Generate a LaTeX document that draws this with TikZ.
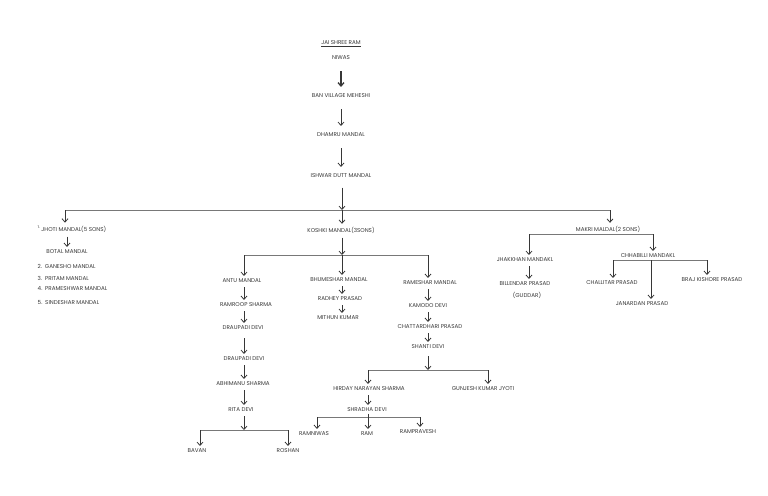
\documentclass[tikz,border=0pt]{standalone}
\usepackage{fontspec}
\setmainfont{Poppins}
\usetikzlibrary{arrows.meta}
\definecolor{txtgrey}{RGB}{55,55,55}
\definecolor{arrgrey}{RGB}{55,55,55}
\definecolor{bargrey}{RGB}{120,120,120}
\tikzset{every picture/.style={line width=0.6pt}}
\tikzset{
  lbl/.style={inner sep=1pt, text=txtgrey, font=\fontsize{4.2}{5}\selectfont},
  arr/.style={draw=arrgrey, -{Straight Barb[length=2.5pt,width=4.5pt]}, shorten <=2pt, shorten >=1pt},
  mainarr/.style={arr, shorten <=7pt, shorten >=4pt},
  barline/.style={draw=bargrey, line width=0.7pt},
}
\begin{document}
\begin{tikzpicture}[x=0.75pt,y=0.75pt,yscale=-1,xscale=1]
\useasboundingbox (0,0) rectangle (768,496);

% Text Node
\node[lbl] (jsr) at (341,44) {\underline{JAI SHREE RAM}};
\node[lbl] (niwas) at (341,58) {NIWAS};
\node[lbl] (ban) at (341,96) {BAN VILLAGE MEHESHI};
\node[lbl] (dhamru) at (341,135) {DHAMRU MANDAL};
\node[lbl] (ishwar) at (341,176) {ISHWAR DUTT MANDAL};

%Straight Lines
\draw[mainarr, line width=1pt] (niwas.south) -- (niwas.south |- ban.north);
\draw[mainarr] (ban.south) -- (ban.south |- dhamru.north);
\draw[mainarr] (dhamru.south) -- (dhamru.south |- ishwar.north);

% first branch
\coordinate (b1w) at (65,210);
\coordinate (b1e) at (610,210);
\coordinate (b1koshki) at (342,210);
\draw[barline] (b1w) -- (b1e);
\draw[arr, shorten <=6pt, shorten >=0pt] (ishwar.south -| b1koshki) -- (b1koshki);

% Text Node
\node[lbl] (jhoti) at (72,229) {\textsuperscript{1.}\,JHOTI MANDAL(5 SONS)};
\node[lbl] (botal) at (67,252) {BOTAL MANDAL};
\node[lbl, anchor=west] (ganesho) at (36,266) {2.\enspace GANESHO MANDAL};
\node[lbl, anchor=west] (pritam) at (36,278) {3.\enspace PRITAM MANDAL};
\node[lbl, anchor=west] (prameshwar) at (36,289) {4.\enspace PRAMESHWAR MANDAL};
\node[lbl, anchor=west] (sindeshar) at (36,302) {5.\enspace SINDESHAR MANDAL};

\draw[arr, shorten <=0pt] (b1w) -- (b1w |- jhoti.north);
\draw[arr] (botal.north |- jhoti.south) -- (botal.north);

% Text Node
\node[lbl] (koshki) at (341,230) {KOSHKI MANDAL(3SONS)};
\draw[arr, shorten <=0pt] (b1koshki) -- (b1koshki |- koshki.north);

% second branch
\coordinate (b2w) at (244,255);
\coordinate (b2e) at (428,255);
\coordinate (b2bhum) at (342,255);
\draw[barline] (b2w) -- (b2e);
\draw[arr, shorten >=0pt] (koshki.south -| b2bhum) -- (b2bhum);

% Text Node
\node[lbl] (antu) at (242,281) {ANTU MANDAL};
\node[lbl] (bhumeshar) at (339,280) {BHUMESHAR MANDAL};
\node[lbl] (rameshar) at (430,283) {RAMESHAR MANDAL};
\draw[arr, shorten <=0pt] (b2w) -- (b2w |- antu.north);
\draw[arr, shorten <=0pt] (b2bhum) -- (b2bhum |- bhumeshar.north);
\draw[arr, shorten <=0pt] (b2e) -- (b2e |- rameshar.north);

% Text Node
\node[lbl] (ramroop) at (246,305) {RAMROOP SHARMA};
\node[lbl] (draupadione) at (243,328) {DRAUPADI DEVI};
\node[lbl] (draupaditwo) at (244,359) {DRAUPADI DEVI};
\node[lbl] (abhimanu) at (243,384) {ABHIMANU SHARMA};
\node[lbl] (rita) at (241,410) {RITA DEVI};

\draw[arr] (antu.south -| b2w) -- (b2w |- ramroop.north);
\draw[arr] (ramroop.south -| b2w) -- (b2w |- draupadione.north);
\draw[arr, shorten <=5pt] (draupadione.south -| b2w) -- (b2w |- draupaditwo.north);
\draw[arr] (draupaditwo.south -| b2w) -- (b2w |- abhimanu.north);
\draw[arr] (abhimanu.south -| b2w) -- (b2w |- rita.north);

% third branch
\coordinate (b3w) at (200,430);
\coordinate (b3e) at (288,430);
\draw[barline] (b3w) -- (b3e);
\draw[arr, shorten >=0pt] (rita.south -| b2w) -- (b2w |- b3w);

% Text Node
\node[lbl] (bavan) at (197,451) {BAVAN};
\node[lbl] (roshan) at (288,451) {ROSHAN};
\draw[arr, shorten <=0pt] (b3w) -- (b3w |- bavan.north);
\draw[arr, shorten <=0pt] (b3e) -- (b3e |- roshan.north);

% Text Node
\node[lbl] (radhey) at (340,299) {RADHEY PRASAD};
\node[lbl] (mithun) at (338,318) {MITHUN KUMAR};
\draw[arr] (bhumeshar.south -| b2bhum) -- (b2bhum |- radhey.north);
\draw[arr] (radhey.south -| b2bhum) -- (b2bhum |- mithun.north);

% Text Node
\node[lbl] (kamodo) at (428,306) {KAMODO DEVI};
\node[lbl] (chattardhari) at (430,327) {CHATTARDHARI PRASAD};
\node[lbl] (shanti) at (428,347) {SHANTI DEVI};
\draw[arr] (rameshar.south -| b2e) -- (b2e |- kamodo.north);
\draw[arr] (kamodo.south -| b2e) -- (b2e |- chattardhari.north);
\draw[arr] (chattardhari.south -| b2e) -- (b2e |- shanti.north);

% fourth branch
\coordinate (b4w) at (368,370);
\coordinate (b4e) at (488,370);
\draw[barline] (b4w) -- (b4e);
\draw[arr, shorten <=4pt, shorten >=0pt] (shanti.south -| b2e) -- (b2e |- b4w);

% Text Node
\node[lbl] (hirday) at (369,389) {HIRDAY NARAYAN SHARMA};
\node[lbl] (gunjesh) at (483,389) {GUNJESH KUMAR JYOTI};
\node[lbl] (shradha) at (367,410) {SHRADHA DEVI};
\draw[arr, shorten <=0pt] (b4w) -- (b4w |- hirday.north);
\draw[arr, shorten <=0pt] (b4e) -- (b4e |- gunjesh.north);
\draw[arr] (hirday.south -| b4w) -- (b4w |- shradha.north);

% fifth branch
\coordinate (b5w) at (317,417);
\coordinate (b5e) at (420,417);
\coordinate (b5ram) at (368,417);
\draw[barline] (b5w) -- (b5e);

% Text Node
\node[lbl] (ramniwas) at (314,434) {RAMNIWAS};
\node[lbl] (ram) at (367,434) {RAM};
\node[lbl] (rampravesh) at (418,432) {RAMPRAVESH};
\draw[arr, shorten <=0pt] (b5w) -- (b5w |- ramniwas.north);
\draw[arr, shorten <=0pt] (shradha.south -| b5ram) -- (b5ram |- ram.north);
\draw[arr, shorten <=0pt] (b5e) -- (b5e |- rampravesh.north);

% Text Node
\node[lbl] (makri) at (608,229) {MAKRI MALDAL(2 SONS)};
\draw[arr, shorten <=0pt] (b1e) -- (b1e |- makri.north);

% sixth branch
\coordinate (b6w) at (529,234);
\coordinate (b6e) at (653,234);
\draw[barline] (b6w) -- (b6e);

% Text Node
\node[lbl] (jhakkhan) at (525,260) {JHAKKHAN MANDAKL};
\node[lbl] (billendar) at (525,284) {BILLENDAR PRASAD};
\node[lbl] (guddar) at (527,295) {(GUDDAR)};
\node[lbl] (chhabilli) at (648,256) {CHHABILLI MANDAKL};
\draw[arr, shorten <=0pt] (b6w) -- (b6w |- jhakkhan.north);
\draw[arr] (jhakkhan.south -| b6w) -- (b6w |- billendar.north);
\draw[arr, shorten <=0pt] (b6e) -- (b6e |- chhabilli.north);

% seventh branch
\coordinate (b7w) at (613,260);
\coordinate (b7e) at (707,260);
\coordinate (b7jan) at (651,260);
\draw[barline] (b7w) -- (b7e);

% Text Node
\node[lbl] (challitar) at (612,283) {CHALLITAR PRASAD};
\node[lbl] (janardan) at (642,304) {JANARDAN PRASAD};
\node[lbl] (braj) at (712,280) {BRAJ KISHORE PRASAD};
\draw[arr, shorten <=0pt] (b7w) -- (b7w |- challitar.north);
\draw[arr, shorten <=0pt] (b7jan) -- (b7jan |- janardan.north);
\draw[arr, shorten <=0pt] (b7e) -- (b7e |- braj.north);

\end{tikzpicture}
\end{document}
